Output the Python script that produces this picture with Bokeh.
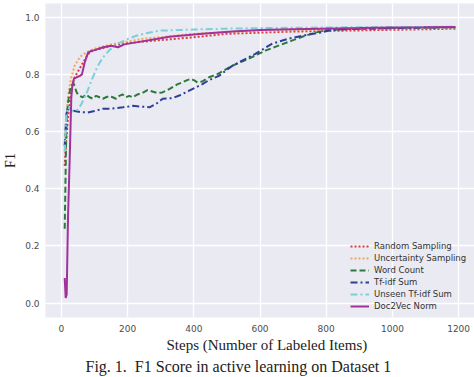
from bokeh.plotting import figure
from bokeh.models import Range1d, Title, FixedTicker, CustomJSTickFormatter
from bokeh.embed import file_html
from bokeh.resources import INLINE

# ---- data ----
rand_x = [10, 15, 20, 25, 30, 35, 40, 50, 60, 70, 80, 90, 100, 120, 150, 200, 250, 300, 350, 400, 450,
          500, 550, 600, 650, 700, 750, 800, 850, 900, 950, 1000, 1050, 1100, 1150, 1190]
rand_y = [0.48, 0.58, 0.65, 0.70, 0.74, 0.77, 0.79, 0.81, 0.83, 0.85, 0.87, 0.88, 0.885, 0.89, 0.90, 0.91,
          0.915, 0.92, 0.925, 0.93, 0.936, 0.942, 0.944, 0.946, 0.948, 0.95, 0.951, 0.952, 0.953, 0.954,
          0.955, 0.956, 0.957, 0.958, 0.959, 0.96]

unc_x = [10, 15, 20, 25, 30, 35, 40, 50, 60, 80, 100, 150, 200, 250, 300, 400, 500, 600, 700, 800, 900,
         1000, 1100, 1190]
unc_y = [0.55, 0.65, 0.72, 0.76, 0.79, 0.81, 0.83, 0.85, 0.865, 0.88, 0.89, 0.905, 0.915, 0.925, 0.93,
         0.942, 0.948, 0.952, 0.955, 0.958, 0.96, 0.961, 0.962, 0.963]

wc_x = [10, 12, 14, 16, 20, 25, 30, 36, 40, 45, 50, 55, 65, 75, 85, 95, 105, 115, 125, 135, 145, 155,
        165, 175, 185, 195, 205, 215, 230, 245, 260, 275, 290, 305, 320, 335, 350, 365, 380, 390, 400,
        411, 425, 446, 470, 516, 566, 616, 650, 696, 736, 770, 806, 850, 900, 1000, 1100, 1190]
wc_y = [0.26, 0.40, 0.55, 0.65, 0.70, 0.74, 0.76, 0.77, 0.76, 0.74, 0.73, 0.725, 0.72, 0.73, 0.72,
        0.715, 0.725, 0.72, 0.715, 0.72, 0.725, 0.72, 0.715, 0.725, 0.73, 0.72, 0.725, 0.72, 0.73,
        0.735, 0.745, 0.74, 0.735, 0.737, 0.745, 0.755, 0.765, 0.772, 0.78, 0.784, 0.78, 0.772, 0.775,
        0.79, 0.80, 0.83, 0.855, 0.883, 0.898, 0.918, 0.935, 0.947, 0.955, 0.958, 0.96, 0.962, 0.964,
        0.965]

tf_x = [10, 15, 20, 25, 30, 40, 60, 80, 100, 126, 150, 186, 216, 246, 266, 286, 306, 336, 360, 386,
        426, 446, 476, 516, 536, 586, 636, 686, 736, 786, 816, 850, 900, 1000, 1100, 1190]
tf_y = [0.55, 0.66, 0.685, 0.68, 0.675, 0.672, 0.668, 0.667, 0.672, 0.68, 0.68, 0.685, 0.69, 0.687,
        0.685, 0.697, 0.715, 0.717, 0.728, 0.743, 0.766, 0.78, 0.795, 0.83, 0.842, 0.872, 0.907, 0.925,
        0.937, 0.947, 0.955, 0.958, 0.96, 0.962, 0.964, 0.965]

un_x = [10, 15, 20, 25, 35, 46, 60, 78, 95, 110, 126, 145, 166, 196, 226, 260, 296, 350, 400, 500, 600,
        700, 800, 900, 1000, 1100, 1190]
un_y = [0.53, 0.66, 0.685, 0.68, 0.67, 0.673, 0.695, 0.74, 0.79, 0.83, 0.86, 0.885, 0.905, 0.922,
        0.935, 0.945, 0.953, 0.955, 0.957, 0.96, 0.962, 0.963, 0.964, 0.965, 0.966, 0.966, 0.967]

d2v_x = [10, 13, 16, 20, 25, 30, 33, 38, 46, 56, 62, 70, 80, 90, 100, 126, 150, 171, 190, 226, 326, 426,
         516, 600, 700, 786, 900, 1000, 1100, 1190]
d2v_y = [0.088, 0.018, 0.03, 0.30, 0.50, 0.72, 0.76, 0.785, 0.79, 0.795, 0.80, 0.84, 0.875, 0.882,
         0.885, 0.895, 0.90, 0.895, 0.905, 0.912, 0.932, 0.942, 0.95, 0.955, 0.958, 0.96, 0.962, 0.964,
         0.965, 0.966]

x_ticks = [0, 200, 400, 600, 800, 1000, 1200]
y_ticks = [0.0, 0.2, 0.4, 0.6, 0.8, 1.0]

p = figure(width=474, height=377, output_backend="svg", toolbar_location=None,
           x_range=Range1d(-48, 1248), y_range=Range1d(-0.0502, 1.048),
           min_border_left=42, min_border_right=0, min_border_top=3, min_border_bottom=0,
           background_fill_color="#EAEAF2", border_fill_color="white")
p.outline_line_color = None

series = [
    (rand_x, rand_y, "#dc3a3f", "2 2", "Random Sampling"),
    (unc_x, unc_y, "#f2a65a", "2 2", "Uncertainty Sampling"),
    (wc_x, wc_y, "#2b7a3b", "6 3", "Word Count"),
    (tf_x, tf_y, "#2e3f98", "7 3 2 3", "Tf-idf Sum"),
    (un_x, un_y, "#7ccfd9", "7 3 2 3", "Unseen Tf-idf Sum"),
    (d2v_x, d2v_y, "#a0329a", "solid", "Doc2Vec Norm"),
]
for xs, ys, col, dash, lab in series:
    p.line(xs, ys, line_color=col, line_width=2, line_dash=dash, legend_label=lab)

for ax in (p.xaxis[0], p.yaxis[0]):
    ax.axis_line_color = None
    ax.major_tick_line_color = None
    ax.minor_tick_line_color = None
    ax.major_tick_out = 0
    ax.major_tick_in = 0
    ax.minor_tick_out = 0
    ax.minor_tick_in = 0
    ax.major_label_text_font = "DejaVu Sans"
    ax.major_label_text_font_size = "9px"
    ax.major_label_text_color = "#4d4d4d"
    ax.axis_label_text_font = "Liberation Serif"
    ax.axis_label_text_font_style = "normal"
    ax.axis_label_text_color = "#222222"

p.xaxis.ticker = FixedTicker(ticks=x_ticks)
p.yaxis.ticker = FixedTicker(ticks=y_ticks)
p.yaxis.formatter = CustomJSTickFormatter(code="return tick.toFixed(1);")
p.xaxis.major_label_standoff = 7
p.yaxis.major_label_standoff = 6

p.yaxis.axis_label = "F1"
p.yaxis.axis_label_text_font_size = "14px"
p.yaxis.axis_label_standoff = 4

p.grid.grid_line_color = "white"
p.grid.grid_line_width = 1.3

xlab = Title(text="Steps (Number of Labeled Items)", align="left", offset=121,
             text_font="Liberation Serif", text_font_size="15px", text_font_style="normal",
             text_color="#222222", standoff=0)
p.add_layout(xlab, "below")
cap = Title(text="Fig. 1.\u00a0 F1 Score in active learning on Dataset 1", align="left", offset=40,
            text_font="Liberation Serif", text_font_size="16px", text_font_style="normal",
            text_color="#222222", standoff=6)
p.add_layout(cap, "below")

lg = p.legend[0]
lg.location = (305, 5)
lg.background_fill_alpha = 0
lg.border_line_color = None
lg.label_text_font = "DejaVu Sans"
lg.label_text_font_size = "8.5px"
lg.label_text_color = "#333333"
lg.label_height = 12
lg.glyph_height = 12
lg.glyph_width = 19
lg.label_standoff = 5
lg.spacing = 0
lg.padding = 2
lg.margin = 0

open("out.html", "w").write(file_html(p, INLINE))
